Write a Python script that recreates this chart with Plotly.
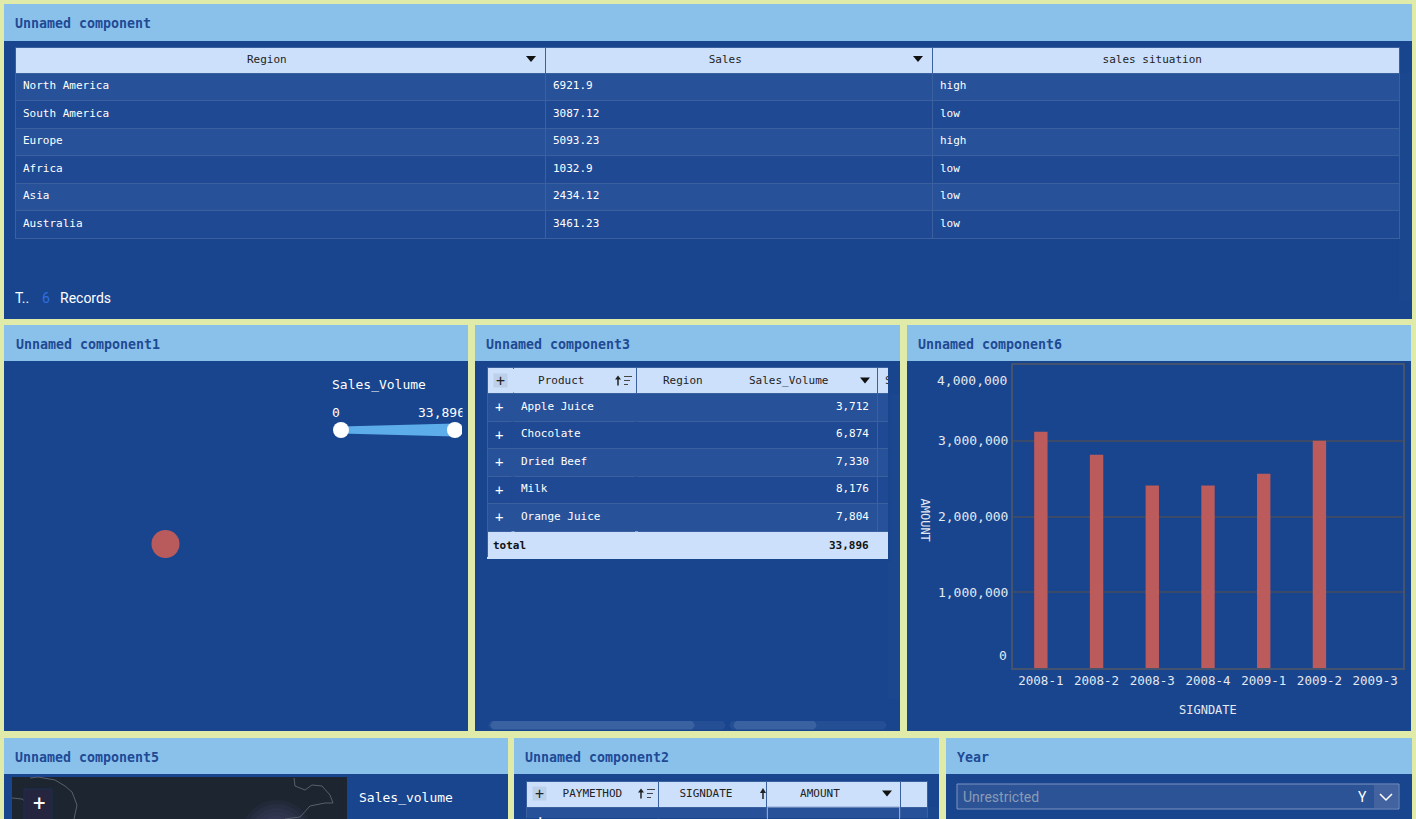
import plotly.graph_objects as go

# table data
region_names = ["North America", "South America", "Europe", "Africa", "Asia", "Australia"]
region_sales = ["6921.9", "3087.12", "5093.23", "1032.9", "2434.12", "3461.23"]
region_situation = ["high", "low", "high", "low", "low", "low"]

product_names = ["Apple Juice", "Chocolate", "Dried Beef", "Milk", "Orange Juice"]
product_volume = ["3,712", "6,874", "7,330", "8,176", "7,804"]
product_total = "33,896"

# bar chart data
sign_dates = ["2008-1", "2008-2", "2008-3", "2008-4", "2009-1", "2009-2", "2009-3"]
amounts = [3118000, 2816000, 2408000, 2408000, 2566000, 3000000, None]

# bubble + range legend
bubble_volume = [33896]
legend_range = [0, 33896]

W, H = 1416, 819
BG = "#E0EBAA"
HEAD = "#8AC1EB"
BODY = "#19458E"
ROW_A = "#27529A"
ROW_B = "#1F4992"
HEAD_CELL = "#CCE0FB"
LINE = "#3A609F"
TITLE = "#1F4A94"
MONO = "DejaVu Sans Mono"
SANS = "Roboto"
NB = "\u00a0"


def X(px):
    return px / W


def Y(py):
    return 1 - py / H


def rect(x0, y0, x1, y1, color, line=None, width=1, layer="below"):
    return dict(type="rect", xref="paper", yref="paper", x0=X(x0), x1=X(x1), y0=Y(y0), y1=Y(y1),
                fillcolor=color, line=dict(color=line or color, width=width if line else 0), layer=layer)


def poly(points, color=None, line=None, width=1, close=True, layer="above"):
    d = "M " + " L ".join(f"{X(a):.5f},{Y(b):.5f}" for a, b in points) + (" Z" if close else "")
    return dict(type="path", xref="paper", yref="paper", path=d, fillcolor=color or "rgba(0,0,0,0)",
                line=dict(color=line or "rgba(0,0,0,0)", width=width), layer=layer)


def pill(x0, y0, x1, y1, color):
    r = (y1 - y0) / 2
    d = (f"M {X(x0 + r):.5f},{Y(y0):.5f} L {X(x1 - r):.5f},{Y(y0):.5f} "
         f"Q {X(x1 + r * 0.3):.5f},{Y(y0 + r):.5f} {X(x1 - r):.5f},{Y(y1):.5f} "
         f"L {X(x0 + r):.5f},{Y(y1):.5f} Q {X(x0 - r * 0.3):.5f},{Y(y0 + r):.5f} {X(x0 + r):.5f},{Y(y0):.5f} Z")
    return dict(type="path", xref="paper", yref="paper", path=d, fillcolor=color, line=dict(width=0), layer="below")


def text(x, y, s, size=12, color="white", font=MONO, anchor="left", angle=0):
    # annotations sit about 2px right of their anchor when left aligned
    if anchor == "left":
        x -= 2
    return dict(xref="paper", yref="paper", x=X(x), y=Y(y), text=s, showarrow=False, xanchor=anchor,
                yanchor="middle", textangle=angle, font=dict(family=font, size=size, color=color))


def tri(x, y):
    return poly([(x - 5, y - 3), (x + 5, y - 3), (x, y + 3)], color="#111111")


def sort_icon(x, y):
    out = [poly([(x - 4, y + 5), (x - 4, y - 3)], line="#222222", width=1.5, close=False),
           poly([(x - 7, y - 1), (x - 4, y - 5), (x - 1, y - 1)], color="#222222")]
    for i, w in enumerate([8, 6, 4]):
        out.append(poly([(x + 2, y - 4 + i * 4), (x + 2 + w, y - 4 + i * 4)], line="#444444", width=1, close=False))
    return out


shapes = []
annotations = []

# panels: x0, x1, y0, header bottom, y1, title, title x
panels = [
    (4, 1412, 4, 41, 319, "Unnamed component", 15),
    (4, 468, 325, 361, 731, "Unnamed component1", 16),
    (475, 900, 325, 361, 731, "Unnamed component3", 486),
    (907, 1411, 325, 361, 731, "Unnamed component6", 918),
    (4, 508, 738, 774, 830, "Unnamed component5", 15),
    (514, 939, 738, 774, 830, "Unnamed component2", 525),
    (946, 1412, 738, 774, 830, "Year", 957),
]
for x0, x1, y0, yh, y1, name, tx in panels:
    shapes.append(rect(x0, y0, x1, y1, BODY))
    shapes.append(rect(x0, y0, x1, yh, HEAD))
    annotations.append(text(tx, (y0 + yh) / 2 + 1, "<b>" + name + "</b>", size=13.3, color=TITLE))

# footer of first table
annotations.append(text(15, 298, "T..", size=14, font=SANS))
annotations.append(text(42, 298, "6", size=14, font=SANS, color="#2F6FE0"))
annotations.append(text(60, 298, "Records", size=14, font=SANS))

# range legend
annotations.append(text(332, 384, "Sales_Volume", size=13))
annotations.append(text(332, 412, "0", size=13))
annotations.append(text(418, 412, "33,896", size=13))
annotations.append(dict(xref="paper", yref="paper", x=X(462), y=Y(412), text=" ", showarrow=False, xanchor="left",
                        yanchor="middle", width=3, height=18, bgcolor=BODY, borderpad=0,
                        font=dict(size=12, color=BODY)))
shapes.append(poly([(341, 426.5), (455, 423.5), (455, 436.5), (341, 433.5)], color="#5DADEB", layer="below"))

# map stub in bottom left panel
shapes.append(rect(12, 777, 347, 830, "#1C2530"))
for r in [36, 32, 28, 24, 20, 16]:
    shapes.append(dict(type="circle", xref="paper", yref="paper", x0=X(277 - r), x1=X(277 + r), y0=Y(836 - r),
                       y1=Y(836 + r), fillcolor="rgba(80,80,125,0.12)", line=dict(width=0), layer="below"))
shapes.append(poly([(30, 778), (38, 777), (55, 780), (65, 786), (72, 792), (77, 805), (74, 819)], line="#59606B",
                   close=False, layer="below"))
shapes.append(poly([(12, 798), (22, 799), (26, 802)], line="#59606B", close=False, layer="below"))
shapes.append(poly([(294, 778), (295, 786), (305, 790), (312, 785), (322, 786), (330, 795), (333, 803), (325, 803),
                    (310, 806), (300, 817), (285, 819)], line="#59606B", close=False, layer="below"))
shapes.append(rect(24, 789, 52, 830, "#262540", line="#1B3050", layer="below"))
annotations.append(text(38.5, 803, "+", size=22, font=SANS, anchor="center"))
annotations.append(text(359, 797, "Sales_volume", size=13))

# scrollbars under the pivot table
for x0, x1, c in [(487, 727, "#254F94"), (489, 696, "#3B62A0"), (728, 888, "#254F94"), (732, 818, "#3B62A0")]:
    shapes.append(pill(x0, 721, x1, 729.5, c))

# Year select box
shapes.append(rect(957, 784, 1399, 809, "#2B5396", line="#7C93BE"))
shapes.append(rect(1374, 785, 1398, 808, "#42639F"))
shapes.append(poly([(1380, 794), (1386, 800), (1392, 794)], line="white", width=1.5, close=False))
annotations.append(text(963, 796.5, "Unrestricted", size=14, font=SANS, color="#8B9BB4"))
annotations.append(text(1362, 797, "Y", size=14, font=SANS, anchor="center"))

# table icons
shapes += [tri(531, 59), tri(918, 59), tri(865, 380.5), tri(887, 793.5)]
shapes += sort_icon(622, 380.5) + sort_icon(645, 793.5)
shapes.append(poly([(763, 799), (763, 791)], line="#222222", width=1.5, close=False))
shapes.append(poly([(760, 793), (763, 788), (766, 793)], color="#222222"))

# pivot rows have no inner vertical rule, paint over the ones the table draws
pivot_rows = [ROW_A if i % 2 == 0 else ROW_B for i in range(len(product_names))] + [HEAD_CELL]
for x in [513, 636.5]:
    for i, c in enumerate(pivot_rows):
        top = 394 + i * 27.5
        shapes.append(rect(x - 1.5, top, x + 1.5, top + 26.5, c, layer="above"))
shapes.append(rect(511.5, 369, 514.5, 392.5, HEAD_CELL, layer="above"))
shapes.append(rect(876, 532, 889, 559, HEAD_CELL, layer="above"))
shapes.append(rect(487, 557, 888, 559, HEAD_CELL, layer="above"))
shapes.append(rect(487, 559, 891, 562, BODY, layer="above"))
shapes.append(rect(888, 367, 891, 560, BODY, layer="above"))
shapes.append(rect(657.5, 807.5, 659.5, 819, ROW_A, layer="above"))

for x, y in [(500.5, 380.5), (539.5, 793.5)]:
    shapes.append(rect(x - 7, y - 7, x + 7, y + 7, "#BCD0EA", layer="above"))
    annotations.append(text(x, y, "+", size=15, color="#222222", anchor="center"))
shapes.append(rect(767.5, 807, 899.5, 830, "rgba(0,0,0,0)", line="#8FA5CC", layer="above"))

annotations.append(text(540, 821, "<b>+</b>", size=14, anchor="center"))
annotations.append(text(493, 545.5, "<b>total</b>", size=11, color="#111111"))
annotations.append(text(683, 380.5, "Region", size=11, color="#222222", anchor="center"))
annotations.append(text(789, 380.5, "Sales_Volume", size=11, color="#222222", anchor="center"))

# labels pushed inside the bar chart's plot area
annotations.append(dict(xref="paper", yref="y", x=X(1009), y=4000000, yshift=-15, text="4,000,000", showarrow=False,
                        xanchor="right", font=dict(family=MONO, size=13, color="#E4E9F2")))
annotations.append(dict(xref="paper", yref="y", x=X(1009), y=0, yshift=13, text="0", showarrow=False,
                        xanchor="right", font=dict(family=MONO, size=13, color="#E4E9F2")))
annotations.append(text(925, 519.5, "AMOUNT", size=12, color="#E4E9F2", anchor="center", angle=90))
annotations.append(text(1208, 710, "SIGNDATE", size=12, color="#E4E9F2", anchor="center"))

fig = go.Figure()


def table_font(color="white"):
    return dict(family=MONO, size=11, color=color)


# regional sales table
row_fill = [ROW_A if i % 2 == 0 else ROW_B for i in range(len(region_names))]
fig.add_trace(go.Table(
    domain=dict(x=[X(15), X(1399)], y=[Y(300), Y(47)]),
    columnwidth=[530, 387, 467],
    header=dict(values=["Region" + NB * 4, "Sales" + NB * 4, "sales situation" + NB * 4], height=26,
                fill_color=HEAD_CELL, align="center", font=table_font("#222222"), line_color="#3A609F"),
    cells=dict(values=[region_names, region_sales, region_situation], height=27.5,
               fill_color=[row_fill], align="left", font=table_font(), line_color=LINE),
))

# pivot table by product
fig.add_trace(go.Table(
    domain=dict(x=[X(487), X(888)], y=[Y(700), Y(367.5)]),
    columnwidth=[26, 123, 241, 11],
    header=dict(values=["", "Product" + NB * 4, "", "S"], height=26, fill_color=HEAD_CELL,
                align=["center", "center", "center", "left"], font=table_font("#222222"), line_color="#3A609F"),
    cells=dict(values=[["+"] * len(product_names) + [""],
                       product_names + [""],
                       product_volume + ["<b>" + product_total + "</b>"],
                       [""] * 6],
               height=27.5, fill_color=[pivot_rows], align=["left", "left", "right", "left"],
               font=dict(family=MONO, size=[14, 11, 11, 11], color=[["white"] * len(product_names) + ["#111111"]]),
               line_color=LINE),
))

# second pivot table, cut off by the window
fig.add_trace(go.Table(
    domain=dict(x=[X(526), X(928)], y=[Y(819), Y(781)]),
    columnwidth=[133, 108, 134, 27],
    header=dict(values=["PAYMETHOD", "SIGNDATE" + NB * 2, "AMOUNT" + NB * 4, ""], height=26, fill_color=HEAD_CELL,
                align="center", font=table_font("#222222"), line_color="#3A609F"),
    cells=dict(values=[[""], [""], [""], [""]], height=27.5, fill_color=ROW_A, line_color=LINE),
))

# bar chart
fig.add_trace(go.Bar(x=sign_dates, y=amounts, xaxis="x", yaxis="y",
                     marker=dict(color="#BC5B5C", line=dict(width=0)), width=0.24, hoverinfo="skip"))

# single bubble
fig.add_trace(go.Scatter(x=bubble_volume, y=[0], xaxis="x2", yaxis="y2", mode="markers",
                         marker=dict(size=28, color="#B95B5D"), hoverinfo="skip"))

# legend handles
fig.add_trace(go.Scatter(x=legend_range, y=[0, 0], xaxis="x3", yaxis="y3", mode="markers",
                         marker=dict(size=16, color="white"), hoverinfo="skip", cliponaxis=True))

hidden = dict(visible=False, fixedrange=True)
fig.update_layout(
    width=W, height=H,
    margin=dict(l=0, r=0, t=0, b=0),
    paper_bgcolor=BG,
    plot_bgcolor="rgba(0,0,0,0)",
    showlegend=False,
    shapes=shapes,
    annotations=annotations,
    xaxis=dict(domain=[X(1013), X(1403)], type="category", categoryorder="array", categoryarray=sign_dates,
               range=[-0.5, 6.5], showline=True, mirror=True, linecolor="#44546F", linewidth=2, showgrid=False,
               ticks="", tickfont=dict(family=MONO, size=12.5, color="#E4E9F2"), fixedrange=True),
    yaxis=dict(domain=[Y(668), Y(365)], range=[0, 4000000], tickvals=[1000000, 2000000, 3000000],
               ticktext=["1,000,000", "2,000,000", "3,000,000"], showline=True, mirror=True, linecolor="#44546F",
               linewidth=2, gridcolor="#3B4A68", gridwidth=2, zeroline=False, ticks="",
               tickfont=dict(family=MONO, size=13, color="#E4E9F2"), fixedrange=True),
    xaxis2=dict(domain=[X(4), X(327)], range=[0, 67792], anchor="y2", **hidden),
    yaxis2=dict(domain=[Y(727), Y(361)], range=[-1, 1], anchor="x2", **hidden),
    xaxis3=dict(domain=[X(330), X(462)], range=[-3270, 36000], anchor="y3", **hidden),
    yaxis3=dict(domain=[Y(445), Y(415)], range=[-1, 1], anchor="x3", **hidden),
)

fig.write_html("out.html", config=dict(displayModeBar=False),
               post_script="document.body.style.margin='0';document.body.style.overflow='hidden';")
